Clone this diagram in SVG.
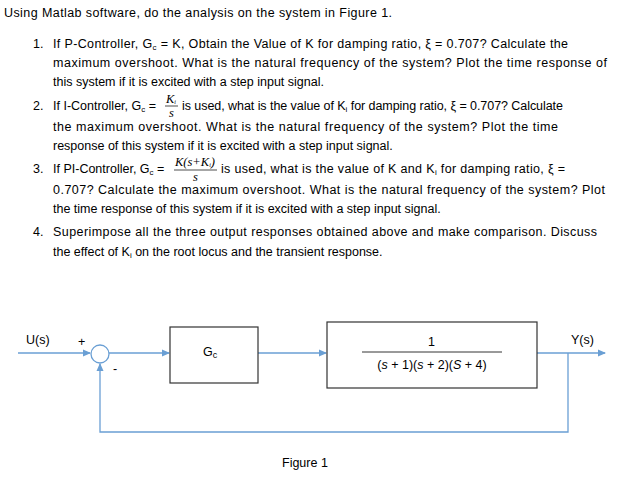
<svg xmlns="http://www.w3.org/2000/svg" width="639" height="494" viewBox="0 0 639 494">
<defs>
<style>
text{font-family:"Liberation Sans",Arial,sans-serif;font-size:12.5px;fill:#000}
.m{font-family:"Liberation Serif","Times New Roman",serif;font-style:italic}
.c{stroke:#6a9fd4;stroke-width:1.3;fill:none}
.b{fill:#fff;stroke:#333;stroke-width:1.2}
</style>
<marker id="a" markerWidth="8" markerHeight="8" refX="7" refY="4" orient="auto" markerUnits="userSpaceOnUse"><path d="M0,0.5 L8,4 L0,7.5z" fill="#6a9fd4"/></marker>
</defs>
<rect width="639" height="494" fill="#fff"/>
<text x="4" y="17" textLength="388">Using Matlab software, do the analysis on the system in Figure 1.</text>
<text x="33" y="48">1.</text>
<text x="53" y="48" textLength="515">If P-Controller, G<tspan font-size="8" dy="2">c</tspan><tspan dy="-2"> = K, Obtain the Value of K for damping ratio, ξ = 0.707? Calculate the</tspan></text>
<text x="53" y="67" textLength="554">maximum overshoot. What is the natural frequency of the system? Plot the time response of</text>
<text x="53" y="86">this system if it is excited with a step input signal.</text>
<text x="33" y="110">2.</text>
<text x="53" y="110">If I-Controller, G<tspan font-size="8" dy="2">c</tspan><tspan dy="-2"> = </tspan></text>
<text x="166" y="103" class="m" font-size="9">K<tspan font-size="6" dy="1">i</tspan></text>
<line x1="165" y1="106" x2="178" y2="106" stroke="#000" stroke-width="0.7"/>
<text x="169" y="117" class="m" font-size="9">s</text>
<text x="182" y="110" textLength="381">is used, what is the value of K<tspan font-size="8" dy="2">i</tspan><tspan dy="-2"> for damping ratio, ξ = 0.707? Calculate</tspan></text>
<text x="53" y="131" textLength="505">the maximum overshoot. What is the natural frequency of the system? Plot the time</text>
<text x="53" y="150">response of this system if it is excited with a step input signal.</text>
<text x="33" y="173">3.</text>
<text x="53" y="173">If PI-Controller, G<tspan font-size="8" dy="2">c</tspan><tspan dy="-2"> = </tspan></text>
<text x="175" y="166" class="m" font-size="9">K(s+K<tspan font-size="6" dy="1">i</tspan><tspan dy="-1">)</tspan></text>
<line x1="174" y1="170" x2="217" y2="170" stroke="#000" stroke-width="0.7"/>
<text x="193" y="181" class="m" font-size="9">s</text>
<text x="221" y="173" textLength="344">is used, what is the value of K and K<tspan font-size="8" dy="2">i</tspan><tspan dy="-2"> for damping ratio, ξ =</tspan></text>
<text x="53" y="194" textLength="552">0.707? Calculate the maximum overshoot. What is the natural frequency of the system? Plot</text>
<text x="53" y="213">the time response of this system if it is excited with a step input signal.</text>
<text x="33" y="236">4.</text>
<text x="53" y="236" textLength="544">Superimpose all the three output responses obtained above and make comparison. Discuss</text>
<text x="53" y="256">the effect of K<tspan font-size="8" dy="2">i</tspan><tspan dy="-2"> on the root locus and the transient response.</tspan></text>
<g id="connectors">
<line class="c" x1="18" y1="353" x2="90" y2="353" marker-end="url(#a)"/>
<line class="c" x1="109" y1="353" x2="169" y2="353" marker-end="url(#a)"/>
<line class="c" x1="258" y1="353" x2="326" y2="353" marker-end="url(#a)"/>
<line class="c" x1="537" y1="353" x2="605" y2="353" marker-end="url(#a)"/>
<polyline class="c" points="568,353 568,432 100,432 100,364" marker-end="url(#a)"/>
</g>
<g id="sum"><circle cx="100" cy="354" r="9" class="c"/><text x="78" y="346" font-size="13">+</text><text x="113" y="373">-</text></g>
<g id="input"><text x="26" y="344">U(s)</text></g>
<g id="output"><text x="571" y="344">Y(s)</text></g>
<g id="gc"><rect class="b" x="170" y="327" width="88" height="56"/><text x="203" y="356" font-size="13">G<tspan font-size="9" dy="2">c</tspan></text></g>
<g id="plant"><rect class="b" x="327" y="322" width="210" height="66"/>
<text x="428" y="346" font-family="Liberation Serif,serif" font-size="13">1</text>
<line x1="362" y1="352" x2="502" y2="352" stroke="#000" stroke-width="0.8"/>
<text x="432" y="369" font-family="Liberation Serif,serif" font-size="14" text-anchor="middle">(<tspan font-style="italic">s</tspan> + 1)(<tspan font-style="italic">s</tspan> + 2)(<tspan font-style="italic">S</tspan> + 4)</text></g>
<text x="282" y="467">Figure 1</text>
</svg>
